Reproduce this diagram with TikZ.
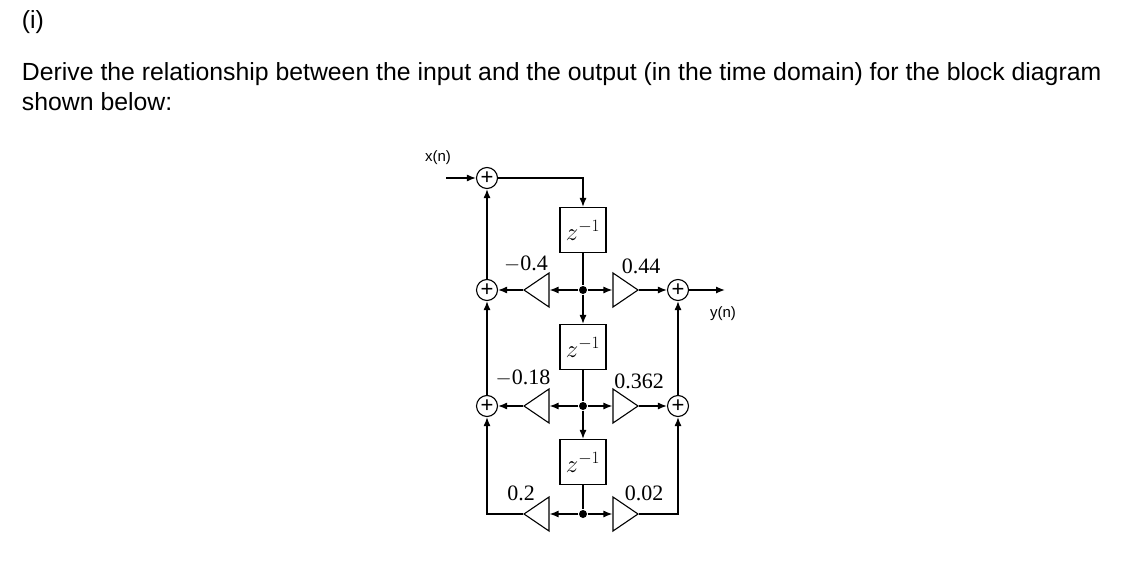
\documentclass[tikz,border=0pt]{standalone}
\usepackage{fontspec}
\setmainfont{Liberation Sans}
\newfontfamily\numfont{Liberation Serif}
\usetikzlibrary{arrows.meta,shapes.geometric}
\begin{document}
\begin{tikzpicture}[x=1pt,y=-1pt,line width=1.3pt,
  sum/.style={circle,draw,minimum size=21pt,inner sep=0pt,line width=1.1pt,font=\fontsize{22}{22}\selectfont},
  delay/.style={draw,minimum width=46pt,minimum height=45pt,inner sep=0pt,line width=1.1pt,font=\fontsize{24}{24}\selectfont},
  gl/.style={isosceles triangle,draw,shape border rotate=180,minimum height=25pt,minimum width=34pt,isosceles triangle stretches,inner sep=0pt,line width=1.1pt},
  gr/.style={isosceles triangle,draw,minimum height=25pt,minimum width=34pt,isosceles triangle stretches,inner sep=0pt,line width=1.1pt},
  dot/.style={circle,fill,inner sep=0pt,minimum size=8pt},
  lab/.style={font=\numfont\fontsize{22}{22}\selectfont},
  ar/.style={-{Latex[length=9pt,width=7pt]}}]
\useasboundingbox (0,0) rectangle (1123,572);
\node[anchor=base west,font=\fontsize{24.8}{24}\selectfont] (t0) at (18,29) {(i)};
\node[anchor=base west,font=\fontsize{24.8}{24}\selectfont] (t1) at (18,81) {Derive the relationship between the input and the output (in the time domain) for the block diagram};
\node[anchor=base west,font=\fontsize{24.8}{24}\selectfont] (t2) at (18,111) {shown below:};
% adders
\node[sum] (s0) at (487,178) {+};
\node[sum] (s1) at (487,290) {+};
\node[sum] (s2) at (487,406) {+};
\node[sum] (r1) at (678,290) {+};
\node[sum] (r2) at (678,406) {+};
% delays
\node[delay] (d1) at (583,230) {$z^{-1}$};
\node[delay] (d2) at (583,347) {$z^{-1}$};
\node[delay] (d3) at (583,462) {$z^{-1}$};
% junctions
\node[dot] (j1) at (583,290) {};
\node[dot] (j2) at (583,406) {};
\node[dot] (j3) at (583,514) {};
% gains
\node[gl] (a1) at (540,290) {};
\node[gl] (a2) at (540,406) {};
\node[gl] (a3) at (540,514) {};
\node[gr] (b1) at (622,290) {};
\node[gr] (b2) at (622,406) {};
\node[gr] (b3) at (622,514) {};
% labels
\node[lab] (l1) at (526,264) {$-$0.4};
\node[lab] (l2) at (641,266) {0.44};
\node[lab] (l3) at (523,378) {$-$0.18};
\node[lab] (l4) at (639,381) {0.362};
\node[lab] (l5) at (521,493) {0.2};
\node[lab] (l6) at (644,493) {0.02};
\node[font=\fontsize{15}{15}\selectfont] (xn) at (438,158) {x(n)};
\node[font=\fontsize{15}{15}\selectfont] (yn) at (723,314) {y(n)};
\coordinate (xin) at (446,178);
\coordinate (yout) at (725,290);
% connections
\draw[ar] (xin) -- (s0);
\draw[ar] (s0.east) -| (d1.north);
\draw (d1.south) -- (j1);
\draw[ar] (j1) -- (d2.north);
\draw (d2.south) -- (j2);
\draw[ar] (j2) -- (d3.north);
\draw (d3.south) -- (j3);
\foreach \j/\a/\b in {j1/a1/b1,j2/a2/b2,j3/a3/b3}{
  \draw[ar] (\j) -- (\a.east);
  \draw[ar] (\j) -- (\b.west);
}
\draw[ar] (a1.west) -- (s1);
\draw[ar] (a2.west) -- (s2);
\draw[ar] (b1.east) -- (r1);
\draw[ar] (b2.east) -- (r2);
\draw[ar] (a3.west) -| (s2.south);
\draw[ar] (b3.east) -| (r2.south);
\draw[ar] (s2) -- (s1);
\draw[ar] (s1) -- (s0);
\draw[ar] (r2) -- (r1);
\draw[ar] (r1) -- (yout);
\end{tikzpicture}
\end{document}
